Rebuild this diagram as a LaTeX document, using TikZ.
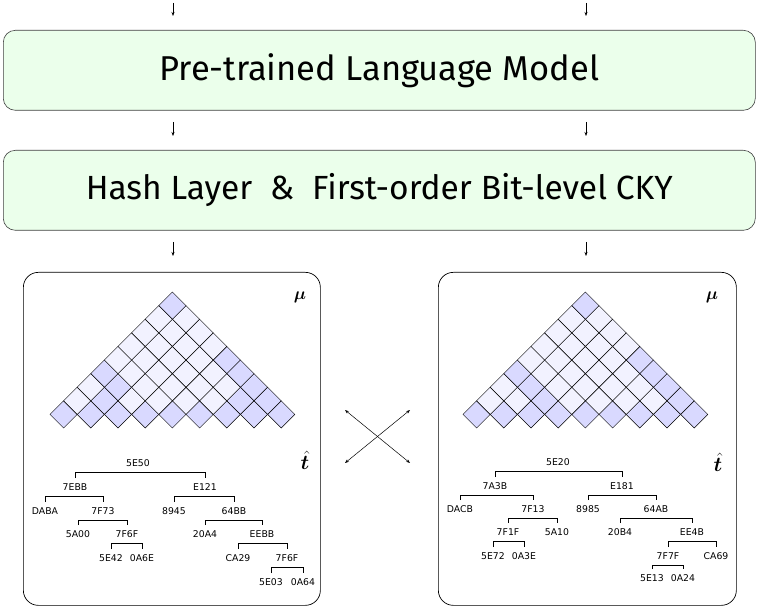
\documentclass[tikz,border=0pt]{standalone}
\usepackage{amsmath,bm}
\usepackage{fontspec}
\setmainfont{Fira Sans}
\newfontfamily\treefont{DejaVu Sans}
\usetikzlibrary{calc,arrows.meta}
\tikzset{
  bigbox/.style={draw=black!75, fill=green!8!white, rounded corners=12pt, line width=0.6pt},
  panel/.style={draw=black, fill=white, rounded corners=15pt, line width=0.7pt},
  flow/.style={-{Stealth[length=4pt,width=3pt]}, line width=0.5pt},
  lab/.style={font=\treefont\fontsize{9.3}{10}\selectfont, inner sep=1pt},
  darkcell/.style={fill=blue!15!white},
  lightcell/.style={fill=blue!5!white},
}
\newcommand\br[3]{\draw[line width=0.5pt] let \p1=(#1.center), \p2=(#2.center), \p3=(#3.center) in
  (\x2,\y2+9pt) -- (\x2,\y1-9pt) -- (\x3,\y1-9pt) -- (\x3,\y3+9pt);}
\newcommand\cell[5]{% x0 y0 r i style
  \pgfmathsetmacro\cx{#1+13.6+27.2*#4+13.6*#3}
  \pgfmathsetmacro\cy{#2-13.6-13.6*#3}
  \draw[#5, line width=0.45pt] (\cx-13.6,\cy) -- (\cx,\cy-13.6) -- (\cx+13.6,\cy) -- (\cx,\cy+13.6) -- cycle;}
\begin{document}
\begin{tikzpicture}[x=1pt,y=-1pt]
\useasboundingbox (0,0) rectangle (762,609);
% top arrows
\coordinate (t1) at (173,0); \coordinate (t2) at (586,0);
\node[bigbox, minimum width=752, minimum height=80, anchor=north west, font=\fontsize{34.5}{36}\selectfont] (plm) at (3,30) {Pre-trained Language Model};
\node[bigbox, minimum width=752, minimum height=80, anchor=north west, font=\fontsize{33.5}{36}\selectfont] (hash) at (3,150) {Hash Layer\ \ \&\ \ First-order Bit-level CKY};
\draw[flow] (t1) ++(0,3) -- ++(0,13);
\draw[flow] (t2) ++(0,3) -- ++(0,13);
\draw[flow] (173,122) -- (173,136);
\draw[flow] (586,122) -- (586,136);
\draw[flow] (173,242) -- (173,256);
\draw[flow] (586,242) -- (586,256);
% panels
\node[panel, minimum width=297, minimum height=333, anchor=north west] (pl) at (23,272) {};
\node[panel, minimum width=298, minimum height=333, anchor=north west] (pr) at (438,272) {};
% cross
\coordinate (c1) at (345,410); \coordinate (c2) at (410,463);
\coordinate (c3) at (410,410); \coordinate (c4) at (345,463);
\draw[{Stealth[length=4pt,width=3pt]}-{Stealth[length=4pt,width=3pt]}, line width=0.5pt] (c1) -- (c2);
\draw[{Stealth[length=4pt,width=3pt]}-{Stealth[length=4pt,width=3pt]}, line width=0.5pt] (c3) -- (c4);
% triangles
\foreach \ox/\dark in {50/{0-0,0-1,0-2,0-3,0-4,0-5,0-6,0-7,0-8,8-0,1-1,2-1,3-0,4-4,3-5,2-6,1-6,1-7},463/{0-0,0-1,0-2,0-3,0-4,0-5,0-6,0-7,0-8,8-0,1-2,2-1,3-0,4-4,3-5,2-6,1-7}}{
  \foreach \r in {0,...,8}{
    \pgfmathtruncatemacro\n{8-\r}
    \foreach \i in {0,...,\n}{
      \gdef\st{lightcell}
      \foreach \d in \dark {\edef\tmp{\r-\i}\ifx\tmp\d\global\def\st{darkcell}\fi}
      \cell{\ox}{428}{\r}{\i}{\st}
    }
  }
}
\node[font=\LARGE] (mu1) at (300,297) {$\bm{\mu}$};
\node[font=\LARGE] (mu2) at (712,297) {$\bm{\mu}$};
\node[font=\huge] (th1) at (305,460) {$\hat{\bm{t}}$};
\node[font=\huge] (th2) at (718,462) {$\hat{\bm{t}}$};
% left tree
\node[lab] (a0) at (138,463) {5E50};
\node[lab] (a1) at (75,487) {7EBB};
\node[lab] (a2) at (205,487) {E121};
\node[lab] (a3) at (45,511) {DABA};
\node[lab] (a4) at (103,511) {7F73};
\node[lab] (a5) at (78,534) {5A00};
\node[lab] (a6) at (127,534) {7F6F};
\node[lab] (a7) at (111,558) {5E42};
\node[lab] (a8) at (142,558) {0A6E};
\node[lab] (a9) at (174,511) {8945};
\node[lab] (a10) at (234,511) {64BB};
\node[lab] (a11) at (205,534) {20A4};
\node[lab] (a12) at (262,534) {EEBB};
\node[lab] (a13) at (238,558) {CA29};
\node[lab] (a14) at (287,558) {7F6F};
\node[lab] (a15) at (271,582) {5E03};
\node[lab] (a16) at (303,582) {0A64};
\br{a0}{a1}{a2} \br{a1}{a3}{a4} \br{a4}{a5}{a6} \br{a6}{a7}{a8}
\br{a2}{a9}{a10} \br{a10}{a11}{a12} \br{a12}{a13}{a14} \br{a14}{a15}{a16}
% right tree
\node[lab] (b0) at (558,462) {5E20};
\node[lab] (b1) at (495,486) {7A3B};
\node[lab] (b2) at (622,486) {E181};
\node[lab] (b3) at (460,509) {DACB};
\node[lab] (b4) at (533,509) {7F13};
\node[lab] (b5) at (508,532) {7F1F};
\node[lab] (b6) at (557,532) {5A10};
\node[lab] (b7) at (493,556) {5E72};
\node[lab] (b8) at (524,556) {0A3E};
\node[lab] (b9) at (588,509) {8985};
\node[lab] (b10) at (656,509) {64AB};
\node[lab] (b11) at (620,532) {20B4};
\node[lab] (b12) at (692,532) {EE4B};
\node[lab] (b13) at (668,556) {7F7F};
\node[lab] (b14) at (716,556) {CA69};
\node[lab] (b15) at (652,578) {5E13};
\node[lab] (b16) at (683,578) {0A24};
\br{b0}{b1}{b2} \br{b1}{b3}{b4} \br{b4}{b5}{b6} \br{b5}{b7}{b8}
\br{b2}{b9}{b10} \br{b10}{b11}{b12} \br{b12}{b13}{b14} \br{b13}{b15}{b16}
\end{tikzpicture}
\end{document}
